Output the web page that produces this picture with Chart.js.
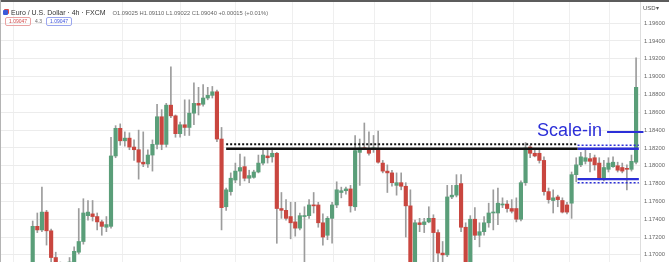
<!DOCTYPE html>
<html>
<head>
<meta charset="utf-8">
<title>EUR/USD 4h - Scale-in</title>
<script src="https://cdn.jsdelivr.net/npm/chart.js@4.4.1/dist/chart.umd.min.js"></script>
<style>
  html, body { margin: 0; padding: 0; background: #fff; }
  #wrap { position: relative; width: 669px; height: 262px; overflow: hidden; font-family: "Liberation Sans", Arial, sans-serif; }
  #wrap canvas { position: absolute; left: 0; top: 0; }
  .topbar { position: absolute; left: 0; top: 0; width: 669px; height: 2px; background: #5c5c5c; }
  .leftbar { position: absolute; left: 0; top: 0; width: 1px; height: 262px; background: #b4b4b4; }
  .title { position: absolute; left: 3px; top: 6px; white-space: nowrap; line-height: 8px; }
  .title .icon { display: inline-block; width: 5px; height: 5px; background: #3b5bd9; border-radius: 1px; margin-right: 3px; vertical-align: 0px; box-shadow: 1px -1px 0 #d84a4a; }
  .title .name { font-size: 7px; color: #333; }
  .title .ohlc { font-size: 5.8px; color: #666; margin-left: 7px; }
  .row2 { position: absolute; left: 5px; top: 17px; white-space: nowrap; font-size: 5px; line-height: 7px; }
  .row2 .box { display: inline-block; padding: 0 3px; border-radius: 2px; }
  .row2 .sell { border: 1px solid #e9a3a3; color: #d24b4b; }
  .row2 .buy { border: 1px solid #9aa6ee; color: #3d53dd; }
  .row2 .spread { color: #666; margin: 0 4px; }
  .ccy { position: absolute; left: 643px; top: 4px; font-size: 6px; color: #555; }
</style>
</head>
<body>
<div id="wrap">
  <canvas id="chart" width="669" height="262"></canvas>
  <div class="topbar"></div>
  <div class="leftbar"></div>
  <div class="title"><span class="icon"></span><span class="name">Euro / U.S. Dollar · 4h · FXCM</span><span class="ohlc">O1.09025 H1.09110 L1.09022 C1.09040 +0.00015 (+0.01%)</span></div>
  <div class="row2"><span class="box sell">1.09047</span><span class="spread">4.3</span><span class="box buy">1.09047</span></div>
  <div class="ccy">USD▾</div>
</div>
<script>
// Candle data (4h EUR/USD), one entry per candle
const opens = [
  1.1685, 1.1732, 1.1728, 1.1748, 1.1727, 1.1697, 1.1690, 1.1678, 1.1681, 1.1692,
  1.1703, 1.1715, 1.1744, 1.1746, 1.1743, 1.1737, 1.1731, 1.1732, 1.1811, 1.1842,
  1.1828, 1.1831, 1.1821, 1.1818, 1.1804, 1.1802, 1.1812, 1.1824, 1.1855, 1.1824,
  1.1868, 1.1856, 1.1836, 1.1846, 1.1843, 1.1859, 1.1870, 1.1869, 1.1876, 1.1879,
  1.1883, 1.1830, 1.1754, 1.1771, 1.1784, 1.1794, 1.1799, 1.1786, 1.1787, 1.1793,
  1.1803, 1.1811, 1.1810, 1.1814, 1.1752, 1.1750, 1.1743, 1.1737, 1.1730, 1.1743,
  1.1744, 1.1756, 1.1756, 1.1736, 1.1722, 1.1741, 1.1756, 1.1770, 1.1772, 1.1774,
  1.1754, 1.1815, 1.1820, 1.1818, 1.1819, 1.1819, 1.1803, 1.1794, 1.1792, 1.1778,
  1.1781, 1.1777, 1.1755, 1.1678, 1.1736, 1.1734, 1.1737, 1.1741, 1.1725, 1.1702,
  1.1700, 1.1765, 1.1767, 1.1780, 1.1731, 1.1678, 1.1740, 1.1722, 1.1726, 1.1736,
  1.1747, 1.1747, 1.1756, 1.1757, 1.1752, 1.1752, 1.1740, 1.1781, 1.1821, 1.1814,
  1.1814, 1.1806, 1.1771, 1.1761, 1.1765, 1.1761, 1.1756, 1.1758, 1.1790, 1.1801,
  1.1805, 1.1808, 1.1809, 1.1803, 1.1786, 1.1796, 1.1799, 1.1800, 1.1798, 1.1797,
  1.1796, 1.1804
];
const highs = [
  1.1738, 1.1747, 1.1776, 1.1750, 1.1729, 1.1703, 1.1692, 1.1685, 1.1697, 1.1709,
  1.1752, 1.1763, 1.1761, 1.1761, 1.1747, 1.1739, 1.1743, 1.1832, 1.1845, 1.1847,
  1.1838, 1.1837, 1.1829, 1.1840, 1.1838, 1.1818, 1.1829, 1.1869, 1.1863, 1.1870,
  1.1911, 1.1857, 1.1849, 1.1874, 1.1874, 1.1893, 1.1888, 1.1891, 1.1888, 1.1889,
  1.1885, 1.1843, 1.1775, 1.1792, 1.1803, 1.1813, 1.1810, 1.1795, 1.1795, 1.1812,
  1.1818, 1.1818, 1.1820, 1.1815, 1.1770, 1.1762, 1.1759, 1.1759, 1.1747, 1.1754,
  1.1762, 1.1770, 1.1759, 1.1746, 1.1743, 1.1759, 1.1782, 1.1776, 1.1776, 1.1778,
  1.1834, 1.1830, 1.1848, 1.1838, 1.1834, 1.1839, 1.1806, 1.1801, 1.1795, 1.1792,
  1.1792, 1.1781, 1.1773, 1.1739, 1.1741, 1.1741, 1.1754, 1.1745, 1.1728, 1.1715,
  1.1778, 1.1778, 1.1790, 1.1790, 1.1736, 1.1744, 1.1753, 1.1736, 1.1743, 1.1758,
  1.1773, 1.1775, 1.1764, 1.1761, 1.1762, 1.1764, 1.1783, 1.1826, 1.1823, 1.1818,
  1.1818, 1.1810, 1.1775, 1.1773, 1.1767, 1.1764, 1.1759, 1.1793, 1.1809, 1.1815,
  1.1818, 1.1814, 1.1812, 1.1809, 1.1806, 1.1809, 1.1810, 1.1804, 1.1803, 1.1801,
  1.1812, 1.1921
];
const lows = [
  1.1683, 1.1725, 1.1726, 1.1711, 1.1692, 1.1685, 1.1672, 1.1670, 1.1677, 1.1690,
  1.1701, 1.1712, 1.1739, 1.1738, 1.1728, 1.1722, 1.1726, 1.1730, 1.1809, 1.1823,
  1.1822, 1.1818, 1.1806, 1.1785, 1.1799, 1.1798, 1.1794, 1.1819, 1.1818, 1.1821,
  1.1854, 1.1832, 1.1832, 1.1834, 1.1834, 1.1846, 1.1857, 1.1867, 1.1874, 1.1876,
  1.1827, 1.1728, 1.1750, 1.1767, 1.1781, 1.1778, 1.1783, 1.1781, 1.1786, 1.1792,
  1.1801, 1.1803, 1.1804, 1.1713, 1.1741, 1.1739, 1.1718, 1.1721, 1.1728, 1.1678,
  1.1741, 1.1747, 1.1731, 1.1711, 1.1717, 1.1713, 1.1753, 1.1764, 1.1768, 1.1748,
  1.1750, 1.1778, 1.1818, 1.1812, 1.1815, 1.1803, 1.1792, 1.1770, 1.1777, 1.1767,
  1.1773, 1.1720, 1.1667, 1.1672, 1.1726, 1.1725, 1.1736, 1.1692, 1.1689, 1.1689,
  1.1698, 1.1763, 1.1765, 1.1726, 1.1667, 1.1672, 1.1717, 1.1709, 1.1722, 1.1731,
  1.1728, 1.1734, 1.1753, 1.1748, 1.1747, 1.1737, 1.1738, 1.1778, 1.1809, 1.1810,
  1.1803, 1.1767, 1.1758, 1.1747, 1.1754, 1.1747, 1.1746, 1.1741, 1.1782, 1.1799,
  1.1802, 1.1793, 1.1795, 1.1784, 1.1783, 1.1793, 1.1798, 1.1793, 1.1792, 1.1773,
  1.1794, 1.1802
];
const closes = [
  1.1732, 1.1728, 1.1748, 1.1727, 1.1697, 1.1690, 1.1678, 1.1681, 1.1692, 1.1704,
  1.1715, 1.1747, 1.1748, 1.1743, 1.1737, 1.1732, 1.1734, 1.1811, 1.1842, 1.1828,
  1.1831, 1.1821, 1.1818, 1.1804, 1.1802, 1.1812, 1.1824, 1.1855, 1.1824, 1.1868,
  1.1856, 1.1836, 1.1846, 1.1843, 1.1859, 1.1870, 1.1868, 1.1876, 1.1879, 1.1883,
  1.1830, 1.1753, 1.1773, 1.1786, 1.1794, 1.1798, 1.1786, 1.1789, 1.1793, 1.1803,
  1.1812, 1.1809, 1.1814, 1.1752, 1.1750, 1.1741, 1.1736, 1.1730, 1.1744, 1.1744,
  1.1756, 1.1755, 1.1736, 1.1720, 1.1741, 1.1756, 1.1773, 1.1772, 1.1774, 1.1755,
  1.1817, 1.1820, 1.1819, 1.1814, 1.1820, 1.1804, 1.1794, 1.1792, 1.1781, 1.1781,
  1.1777, 1.1755, 1.1678, 1.1736, 1.1734, 1.1737, 1.1741, 1.1725, 1.1702, 1.1700,
  1.1765, 1.1767, 1.1778, 1.1731, 1.1678, 1.1740, 1.1722, 1.1726, 1.1736, 1.1747,
  1.1748, 1.1758, 1.1757, 1.1752, 1.1749, 1.1740, 1.1781, 1.1820, 1.1814, 1.1811,
  1.1806, 1.1771, 1.1762, 1.1764, 1.1762, 1.1748, 1.1748, 1.1790, 1.1801, 1.1810,
  1.1809, 1.1805, 1.1801, 1.1786, 1.1798, 1.1803, 1.1804, 1.1795, 1.1794, 1.1796,
  1.1805, 1.1888
];

// Price axis labels and session separators (candle index)
const priceTicks = [1.170, 1.172, 1.174, 1.176, 1.178, 1.180, 1.182, 1.184, 1.186, 1.188, 1.190, 1.192, 1.194, 1.196];
const dayBreaks = [-4.1, 19.6, 32.0, 44.1, 56.3, 65.2, 74.3, 86.3, 95.4, 104.3, 116.6, 125.3];

// Drawn levels: [dotted, solid] prices and the candle span they cover
const resistanceLevels = [1.1824, 1.1819];
const resistanceSpan = [42, 118.3];
const scaleInTopLevels = [1.1823, 1.1819];
const scaleInBottomLevels = [1.1781, 1.1785];
const scaleInSpan = [118.3, 131.6];
const scaleInArrowPrice = 1.1838;
const scaleInArrowSpan = [124.7, 132.6];
const scaleInLabelPos = [109.5, 1.1839];

const GREEN = '#5a9e79';
const RED = '#c9463f';
const WICK = '#9c9c9c';
const BLUE = '#2c2fd8';
const FONT = '"Liberation Sans", Arial, sans-serif';

const idx = opens.map((_, i) => i);
const isUp = i => closes[i] >= opens[i];

function hLine(price, span, color, width, dash, clip) {
    return {
        type: 'line',
        data: [{ x: span[0], y: price }, { x: span[1], y: price }],
        borderColor: color,
        borderWidth: width,
        borderDash: dash,
        pointRadius: 0,
        fill: false,
        order: 1,
        clip: clip
    };
}

// Write the "Scale-in" note next to its arrow line
const scaleInLabel = {
    id: 'scaleInLabel',
    afterDatasetsDraw(chart) {
        const { ctx, scales: { x, y } } = chart;
        ctx.save();
        ctx.font = '18px ' + FONT;
        ctx.fillStyle = BLUE;
        ctx.textBaseline = 'middle';
        ctx.fillText('Scale-in', x.getPixelForValue(scaleInLabelPos[0]), y.getPixelForValue(scaleInLabelPos[1]));
        ctx.restore();
    }
};

new Chart(document.getElementById('chart'), {
    type: 'bar',
    data: {
        datasets: [
            {
                // wicks
                data: idx.map(i => ({ x: i, y: [lows[i], highs[i]] })),
                backgroundColor: WICK,
                barThickness: 1,
                grouped: false,
                order: 3
            },
            {
                // bodies
                data: idx.map(i => ({ x: i, y: [opens[i], closes[i]] })),
                backgroundColor: ctx => isUp(ctx.dataIndex) ? GREEN : RED,
                barThickness: 3.5,
                minBarLength: 1,
                grouped: false,
                order: 2
            },
            hLine(resistanceLevels[0], resistanceSpan, '#111', 2, [2, 2]),
            hLine(resistanceLevels[1], resistanceSpan, '#111', 2.6, []),
            hLine(scaleInTopLevels[0], scaleInSpan, BLUE, 1.6, [2, 2]),
            hLine(scaleInTopLevels[1], scaleInSpan, BLUE, 2.4, []),
            hLine(scaleInBottomLevels[0], scaleInSpan, BLUE, 1.6, [2, 2]),
            hLine(scaleInBottomLevels[1], scaleInSpan, BLUE, 2.4, []),
            hLine(scaleInArrowPrice, scaleInArrowSpan, BLUE, 2, [], false)
        ]
    },
    options: {
        responsive: false,
        animation: false,
        devicePixelRatio: 1,
        layout: { padding: 0 },
        plugins: {
            legend: { display: false },
            tooltip: { enabled: false }
        },
        scales: {
            x: {
                type: 'linear',
                min: -7.1,
                max: 131.85,
                offset: false,
                afterBuildTicks: s => { s.ticks = dayBreaks.map(v => ({ value: v })); },
                afterFit: s => { s.height = 0; s.paddingLeft = 0; s.paddingRight = 0; },
                ticks: { display: false },
                grid: { color: '#efefef', drawTicks: false, offset: false },
                border: { display: false }
            },
            y: {
                position: 'right',
                min: 1.1692,
                max: 1.1986,
                afterBuildTicks: s => { s.ticks = priceTicks.map(v => ({ value: v })); },
                afterFit: s => { s.width = 29; s.paddingTop = 0; s.paddingBottom = 0; },
                ticks: {
                    padding: 4,
                    color: '#666',
                    font: { size: 5.8, family: FONT },
                    callback: v => v.toFixed(5)
                },
                grid: { color: '#ececec', drawTicks: false },
                border: { color: '#dddddd' }
            }
        }
    },
    plugins: [scaleInLabel]
});
</script>
</body>
</html>
